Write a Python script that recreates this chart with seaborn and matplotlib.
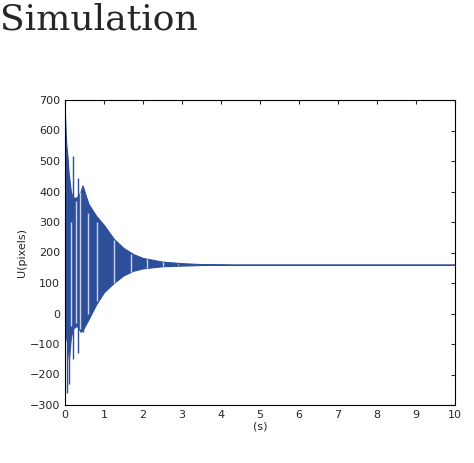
import matplotlib
matplotlib.use("Agg")
import matplotlib.pyplot as plt
import seaborn as sns
import numpy as np

sns.set_style("white")
plt.rcParams['font.family'] = ['DejaVu Sans']

# envelope of the oscillating response
env_t = [0, 0.03, 0.06, 0.1, 0.15, 0.2, 0.3, 0.4, 0.45, 0.6, 0.8, 1.0, 1.25, 1.5, 1.75, 2.0, 2.5, 3.0, 3.5, 4.0, 4.3, 10]
env_hi = [650, 560, 520, 450, 400, 380, 380, 400, 420, 360, 320, 290, 245, 215, 195, 182, 170, 165, 162, 161, 160, 160]
env_lo = [-50, -80, -100, -150, -80, -50, -40, -60, -55, -20, 30, 70, 100, 125, 140, 148, 155, 157, 159, 159.5, 160, 160]
# isolated spikes
spike_t = [0.05, 0.1, 0.2, 0.34, 0.46]
spike_lo = [-260, -230, -150, -130, -60]
spike_hi = [520, 450, 515, 445, 410]
# light gaps inside the band
gap_t = [0.15, 0.27, 0.38, 0.6, 0.82, 1.25, 1.68, 2.1, 2.5, 2.9]
gap_lo = [-40, -30, -50, 0, 40, 100, 135, 150, 157, 158]
gap_hi = [300, 370, 400, 330, 300, 240, 195, 180, 168, 163]

blue = "#2d4f9a"
fig = plt.figure(figsize=(4.74, 4.63), dpi=100)
fig.text(0.0, 0.995, "Simulation", fontsize=26, family="DejaVu Serif", va="top", ha="left")
ax = fig.add_axes([65/474, 1-405/463, 390/474, 305/463])
ax.fill_between(env_t, env_lo, env_hi, color=blue, lw=0.8)
ax.vlines(spike_t, spike_lo, spike_hi, color=blue, lw=1)
ax.vlines(gap_t, gap_lo, gap_hi, color="#c8d2ea", lw=1)
ax.set_xlim(0, 10)
ax.set_ylim(-300, 700)
ax.set_xticks(range(0, 11))
ax.set_yticks(range(-300, 701, 100))
ax.tick_params(direction="in", labelsize=8, top=True, right=True, length=3)
for s in ax.spines.values():
    s.set_color("black"); s.set_linewidth(0.8)
ax.set_xlabel("(s)", fontsize=8, labelpad=1)
ax.set_ylabel("U(pixels)", fontsize=8, labelpad=2)
fig.savefig("out.png", dpi=100)
